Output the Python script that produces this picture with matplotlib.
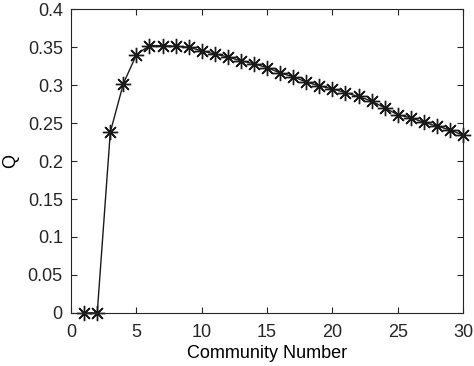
import matplotlib
matplotlib.use("Agg")
import matplotlib.pyplot as plt

plt.rcParams['font.family'] = ['Liberation Sans', 'DejaVu Sans']

community = list(range(1, 31))
q_values = [0.0, 0.0, 0.238, 0.302, 0.340, 0.352, 0.352, 0.351, 0.350, 0.345,
            0.341, 0.337, 0.332, 0.328, 0.323, 0.316, 0.311, 0.304, 0.299, 0.295,
            0.290, 0.285, 0.279, 0.270, 0.261, 0.257, 0.251, 0.246, 0.241, 0.234]
xticks = [0, 5, 10, 15, 20, 25, 30]
yticks = [0, 0.05, 0.1, 0.15, 0.2, 0.25, 0.3, 0.35, 0.4]
yticklabels = ['0', '0.05', '0.1', '0.15', '0.2', '0.25', '0.3', '0.35', '0.4']

fig = plt.figure(figsize=(4.74, 3.66), dpi=100)
ax = fig.add_axes([0.150, 0.145, 0.827, 0.830])
ax.plot(community, q_values, color='#1a1a1a', lw=1.0, marker=(8, 2, 0), markersize=11,
        markeredgewidth=1.0, clip_on=False)
ax.set_xlim(0, 30)
ax.set_ylim(0, 0.4)
ax.set_xticks(xticks)
ax.set_yticks(yticks)
ax.set_yticklabels(yticklabels)
ax.tick_params(direction='in', top=True, right=True, labelsize=13, length=4, width=0.8, colors='#262626')
ax.tick_params(axis='x', pad=8)
ax.tick_params(axis='y', pad=6)
for s in ax.spines.values():
    s.set_linewidth(0.8)
    s.set_color('#262626')
ax.set_xlabel('Community Number', fontsize=13, labelpad=3)
ax.set_ylabel('Q', fontsize=13, labelpad=6)
fig.savefig('out.png', dpi=100)
